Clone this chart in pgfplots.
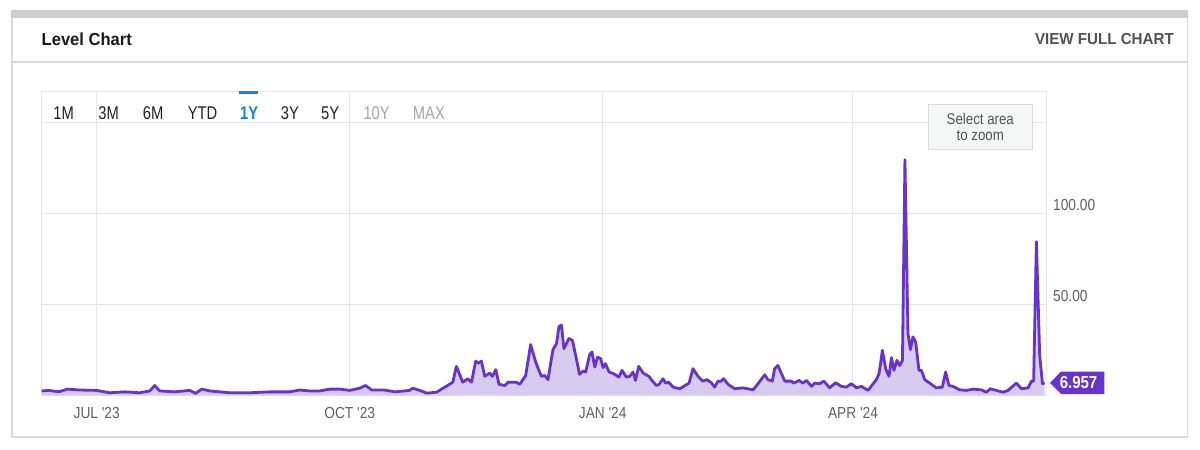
\documentclass[border=0pt]{standalone}
\usepackage{fontspec}
\setmainfont{Liberation Sans}
\newfontfamily\rob[FakeStretch=0.86]{Liberation Sans}
\newfontfamily\robh[FakeStretch=0.95]{Liberation Sans}
\newfontfamily\robc[FakeStretch=0.8]{Liberation Sans}
\usepackage{pgfplots}
\usepackage{pgfplotstable}
\pgfplotsset{compat=1.18}
\definecolor{lc}{RGB}{104,50,206}
\definecolor{lf}{RGB}{215,203,240}
\definecolor{gridc}{RGB}{229,229,229}
\definecolor{cardb}{RGB}{218,218,218}
\definecolor{topbar}{RGB}{206,206,206}
\definecolor{txt}{RGB}{95,95,95}
\definecolor{btn}{RGB}{34,34,34}
\definecolor{btnoff}{RGB}{165,165,165}
\definecolor{blue1y}{RGB}{24,128,226}
\definecolor{zoombg}{RGB}{245,247,247}

\pgfplotstableread{
day value
0 2.5
2.9 2.8
4.7 2.3
6.5 2.2
9.5 3.5
13.8 3.0
20 2.8
24.7 1.5
30.2 2.0
35.6 1.5
39.3 2.5
41.1 5.5
42.9 2.5
48.4 2.0
53.8 2.8
56 1.2
58.2 3.5
61.1 2.5
68.4 1.5
75.6 1.5
82.9 2.0
90.2 2.0
93.8 3.0
97.5 2.5
101.1 2.5
104.7 3.5
108.4 3.5
112 2.8
115.6 4.0
117.8 5.5
120 3.0
124.7 3.0
128.4 2.0
133.8 2.8
134.9 4.0
137.5 2.8
140 1.3
143.6 1.8
145.8 3.9
147.6 5.5
149.5 7.3
150.8 16
153.1 7.3
154.9 9.2
156.3 7.3
157.8 18.9
158.7 17.8
159.9 18.9
161.1 10.5
162.9 12.3
163.9 10.5
165.1 14.2
166.3 6.1
168.4 5.5
169.6 7.3
172.6 7.3
173.8 6.1
176 11
177.8 28
179.6 18.4
181.7 10.5
182.9 11
184.1 8.7
185.9 25.2
187.2 28.5
188.1 38
189 38.6
189.9 25.7
191.7 31.3
193 30.3
195.6 11.6
196.8 13.4
197.8 12.9
199.3 22.6
200.1 23.9
201.1 15.6
202.1 21.1
203.3 20.2
204.1 15.3
205 17.5
206.3 12.9
208 12
209.9 10.1
211 13.8
212.6 10.1
213.8 10.5
215 12.9
215.9 8.3
217.1 16
218.7 12.3
220.8 10.5
222.1 7.9
223.5 5.5
224.5 6.1
225.9 9.2
226.9 6.8
228 7.3
229.6 4.6
232 3.7
235.4 6.8
236.8 14.7
238.7 10.5
240.3 7.9
241.9 8.7
243.5 7
244.7 4.6
245.9 7.9
246.8 7.7
248 9.2
249.6 6.1
252 3.7
255 4.2
258.7 3.1
260.5 6.5
262.9 11.4
264.1 8.7
265.7 7.9
266.5 14.7
267.7 16.5
269 12
270.2 7.9
272.6 7.9
273.5 6.8
275.4 8.3
276.8 6.8
278.1 8.3
279.9 5
281.1 6.8
282.9 6.5
284.4 7.9
286.5 4.2
288.7 7
290.8 5
292.6 4.6
294.4 6.5
296.3 4.2
298.1 5
300.5 2.8
303.5 8.7
304.5 12
305.7 24.8
306.9 14.7
308.1 10.5
309 20.8
309.9 13.8
311 19.3
312 16.5
313 19.3
313.9 129.6
315 34
315.9 25.2
316.8 32.2
317.8 29.4
319 13.8
319.9 13.8
321.1 8.7
322.9 6.8
325.3 4.2
327.5 4.6
328.7 12.9
329.9 5.5
331.4 5
333.8 3.1
336.3 2.8
338.7 3.5
341.7 3.1
343.5 1.8
345 3.7
347.1 2.8
349.6 1.8
351.4 2.8
354.4 6.8
356.3 3.7
358.7 4.2
359.9 7.9
360.7 7.9
361.7 84.5
362.9 22
363.9 6.5
364.7 6.957
}\levels

\begin{document}
\begin{tikzpicture}[x=1bp,y=1bp]
% page background
\fill[white] (0,0) rectangle (1200,450);
% card
\draw[cardb, line width=1.5bp] (12,13) rectangle (1187.5,433);
\fill[topbar] (11.25,432) rectangle (1188.25,440);
\draw[cardb, line width=1.2bp] (12,388) -- (1187.5,388);
\node[anchor=base west, inner sep=0, text=black!90] at (41.5,404)
  {\robh\bfseries\fontsize{17.5}{20}\selectfont Level Chart};
\node[anchor=base east, inner sep=0, text=black!68] at (1174,405)
  {\robh\bfseries\fontsize{16}{18}\selectfont VIEW FULL CHART};

\begin{axis}[
  at={(41.7bp,54.5bp)}, anchor=south west,
  scale only axis, width=1004.3bp, height=304.3bp,
  xmin=0, xmax=365.2, ymin=0, ymax=167.2,
  clip=false,
  axis line style={draw=gridc, line width=1bp},
  grid=major, major grid style={draw=gridc, line width=1bp},
  tick style={draw=none},
  xtick={20,112,204,295},
  xticklabels={JUL '23, OCT '23, JAN '24, APR '24},
  ytick={50,100,150},
  yticklabels={50.00,100.00,{}},
  yticklabel pos=right,
  xticklabel style={anchor=base, inner sep=0, yshift=-23.5bp, text=txt,
    font=\rob\fontsize{16}{18}\selectfont},
  yticklabel style={anchor=base west, inner sep=0, xshift=7bp, yshift=3bp, text=txt,
    font=\rob\fontsize{16}{18}\selectfont},
]
\addplot[draw=none, fill=lf] table[x=day, y=value] {\levels} \closedcycle;
\addplot[lc, line width=2.8bp, line join=round] table[x=day, y=value] {\levels};
\coordinate (endpt) at (axis cs:365.2,6.957);
\end{axis}

% range selector
\fill[blue1y] (239,355.7) rectangle (258,359);
\begin{scope}[every node/.style={anchor=base west, inner sep=0}]
\node[text=btn] at (53.3,330.7) {\robc\fontsize{18.5}{20}\selectfont 1M};
\node[text=btn] at (98.3,330.7) {\robc\fontsize{18.5}{20}\selectfont 3M};
\node[text=btn] at (142.7,330.7) {\robc\fontsize{18.5}{20}\selectfont 6M};
\node[text=btn] at (187.7,330.7) {\robc\fontsize{18.5}{20}\selectfont YTD};
\node[text=blue1y] at (240,330.7) {\robc\bfseries\fontsize{18.5}{20}\selectfont 1Y};
\node[text=btn] at (280.7,330.7) {\robc\fontsize{18.5}{20}\selectfont 3Y};
\node[text=btn] at (321,330.7) {\robc\fontsize{18.5}{20}\selectfont 5Y};
\node[text=btnoff] at (363.3,330.7) {\robc\fontsize{18.5}{20}\selectfont 10Y};
\node[text=btnoff] at (412.7,330.7) {\robc\fontsize{18.5}{20}\selectfont MAX};
\end{scope}

% zoom hint
\draw[cardb, fill=zoombg, line width=1bp] (928.3,300) rectangle (1032.3,345);
\node[anchor=base, inner sep=0, text=black!68] at (980.3,325.7)
  {\rob\fontsize{15.5}{18}\selectfont Select area};
\node[anchor=base, inner sep=0, text=black!68] at (980.3,309)
  {\rob\fontsize{15.5}{18}\selectfont to zoom};

% last value flag
\fill[lc] ([xshift=4bp]endpt) -- ++(11bp,11.2bp) -- ++(43.3bp,0) -- ++(0,-22.4bp)
  -- ++(-43.3bp,0) -- cycle;
\node[anchor=center, inner sep=0, text=white] at ([xshift=32.5bp,yshift=0.5bp]endpt)
  {\rob\bfseries\fontsize{17.5}{19}\selectfont 6.957};
\end{tikzpicture}
\end{document}
